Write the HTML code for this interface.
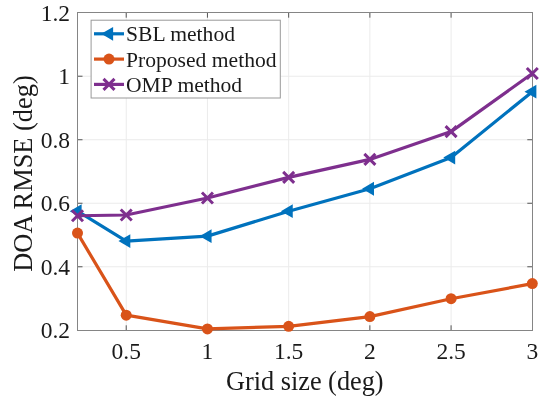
<!DOCTYPE html>
<html><head><meta charset="utf-8"><style>
html,body{margin:0;padding:0;background:#fff;width:550px;height:402px;overflow:hidden}
svg{display:block;will-change:transform}
text{font-family:"Liberation Serif",serif;fill:#1a1a1a}
</style></head><body>
<svg width="550" height="402" viewBox="0 0 550 402">
<g stroke="#ebebeb" stroke-width="1"><line x1="126.23" y1="12.7" x2="126.23" y2="330.3"/><line x1="207.44" y1="12.7" x2="207.44" y2="330.3"/><line x1="288.66" y1="12.7" x2="288.66" y2="330.3"/><line x1="369.87" y1="12.7" x2="369.87" y2="330.3"/><line x1="451.09" y1="12.7" x2="451.09" y2="330.3"/><line x1="77.5" y1="266.78" x2="532.3" y2="266.78"/><line x1="77.5" y1="203.26" x2="532.3" y2="203.26"/><line x1="77.5" y1="139.74" x2="532.3" y2="139.74"/><line x1="77.5" y1="76.22" x2="532.3" y2="76.22"/></g>
<g stroke="#555" stroke-width="1"><line x1="126.23" y1="330.3" x2="126.23" y2="325.3"/><line x1="126.23" y1="12.7" x2="126.23" y2="17.7"/><line x1="207.44" y1="330.3" x2="207.44" y2="325.3"/><line x1="207.44" y1="12.7" x2="207.44" y2="17.7"/><line x1="288.66" y1="330.3" x2="288.66" y2="325.3"/><line x1="288.66" y1="12.7" x2="288.66" y2="17.7"/><line x1="369.87" y1="330.3" x2="369.87" y2="325.3"/><line x1="369.87" y1="12.7" x2="369.87" y2="17.7"/><line x1="451.09" y1="330.3" x2="451.09" y2="325.3"/><line x1="451.09" y1="12.7" x2="451.09" y2="17.7"/><line x1="77.5" y1="266.78" x2="82.5" y2="266.78"/><line x1="532.3" y1="266.78" x2="527.3" y2="266.78"/><line x1="77.5" y1="203.26" x2="82.5" y2="203.26"/><line x1="532.3" y1="203.26" x2="527.3" y2="203.26"/><line x1="77.5" y1="139.74" x2="82.5" y2="139.74"/><line x1="532.3" y1="139.74" x2="527.3" y2="139.74"/><line x1="77.5" y1="76.22" x2="82.5" y2="76.22"/><line x1="532.3" y1="76.22" x2="527.3" y2="76.22"/></g>
<rect x="77.5" y="12.5" width="455" height="318" fill="none" stroke="#858585" stroke-width="1"/>
<polyline points="77.50,211.20 126.23,241.05 207.44,236.13 288.66,211.20 369.87,188.75 451.09,157.59 532.30,91.66" fill="none" stroke="#0072BD" stroke-width="3.2" stroke-linejoin="round"/>
<polygon points="69.70,211.20 81.60,204.30 81.60,218.10" fill="#0072BD"/>
<polygon points="118.43,241.05 130.33,234.15 130.33,247.95" fill="#0072BD"/>
<polygon points="199.64,236.13 211.54,229.23 211.54,243.03" fill="#0072BD"/>
<polygon points="280.86,211.20 292.76,204.30 292.76,218.10" fill="#0072BD"/>
<polygon points="362.07,188.75 373.97,181.85 373.97,195.65" fill="#0072BD"/>
<polygon points="443.29,157.59 455.19,150.69 455.19,164.49" fill="#0072BD"/>
<polygon points="524.50,91.66 536.40,84.76 536.40,98.56" fill="#0072BD"/>
<polyline points="77.50,233.11 126.23,315.18 207.44,328.90 288.66,326.30 369.87,316.58 451.09,298.73 532.30,283.61" fill="none" stroke="#D95319" stroke-width="3.2" stroke-linejoin="round"/>
<circle cx="77.50" cy="233.11" r="5.5" fill="#D95319"/>
<circle cx="126.23" cy="315.18" r="5.5" fill="#D95319"/>
<circle cx="207.44" cy="328.90" r="5.5" fill="#D95319"/>
<circle cx="288.66" cy="326.30" r="5.5" fill="#D95319"/>
<circle cx="369.87" cy="316.58" r="5.5" fill="#D95319"/>
<circle cx="451.09" cy="298.73" r="5.5" fill="#D95319"/>
<circle cx="532.30" cy="283.61" r="5.5" fill="#D95319"/>
<polyline points="77.50,215.77 126.23,215.01 207.44,197.96 288.66,177.41 369.87,159.43 451.09,131.61 532.30,73.52" fill="none" stroke="#7E2F8E" stroke-width="3.2" stroke-linejoin="round"/>
<path d="M72.00,210.27L83.00,221.27M72.00,221.27L83.00,210.27" stroke="#7E2F8E" stroke-width="3" fill="none"/>
<path d="M120.73,209.51L131.73,220.51M120.73,220.51L131.73,209.51" stroke="#7E2F8E" stroke-width="3" fill="none"/>
<path d="M201.94,192.46L212.94,203.46M201.94,203.46L212.94,192.46" stroke="#7E2F8E" stroke-width="3" fill="none"/>
<path d="M283.16,171.91L294.16,182.91M283.16,182.91L294.16,171.91" stroke="#7E2F8E" stroke-width="3" fill="none"/>
<path d="M364.37,153.93L375.37,164.93M364.37,164.93L375.37,153.93" stroke="#7E2F8E" stroke-width="3" fill="none"/>
<path d="M445.59,126.11L456.59,137.11M445.59,137.11L456.59,126.11" stroke="#7E2F8E" stroke-width="3" fill="none"/>
<path d="M526.80,68.02L537.80,79.02M526.80,79.02L537.80,68.02" stroke="#7E2F8E" stroke-width="3" fill="none"/>
<rect x="91.1" y="20.2" width="189.2" height="77.8" fill="#fff" stroke="#999999" stroke-width="1"/>
<line x1="94" y1="33.80" x2="124" y2="33.80" stroke="#0072BD" stroke-width="3.2"/>
<polygon points="101.20,33.80 113.10,26.90 113.10,40.70" fill="#0072BD"/>
<text x="126" y="41.30" font-size="21.6">SBL method</text>
<line x1="94" y1="59.10" x2="124" y2="59.10" stroke="#D95319" stroke-width="3.2"/>
<circle cx="109.00" cy="59.10" r="5.5" fill="#D95319"/>
<text x="126" y="66.60" font-size="21.6">Proposed method</text>
<line x1="94" y1="84.40" x2="124" y2="84.40" stroke="#7E2F8E" stroke-width="3.2"/>
<path d="M103.50,78.90L114.50,89.90M103.50,89.90L114.50,78.90" stroke="#7E2F8E" stroke-width="3" fill="none"/>
<text x="126" y="91.90" font-size="21.6">OMP method</text>
<text x="126.23" y="358.8" font-size="23.5" text-anchor="middle">0.5</text>
<text x="207.44" y="358.8" font-size="23.5" text-anchor="middle">1</text>
<text x="288.66" y="358.8" font-size="23.5" text-anchor="middle">1.5</text>
<text x="369.87" y="358.8" font-size="23.5" text-anchor="middle">2</text>
<text x="451.09" y="358.8" font-size="23.5" text-anchor="middle">2.5</text>
<text x="532.30" y="358.8" font-size="23.5" text-anchor="middle">3</text>
<text x="70" y="338.30" font-size="23.5" text-anchor="end">0.2</text>
<text x="70" y="274.78" font-size="23.5" text-anchor="end">0.4</text>
<text x="70" y="211.26" font-size="23.5" text-anchor="end">0.6</text>
<text x="70" y="147.74" font-size="23.5" text-anchor="end">0.8</text>
<text x="70" y="84.22" font-size="23.5" text-anchor="end">1</text>
<text x="70" y="20.70" font-size="23.5" text-anchor="end">1.2</text>
<text x="304.75" y="390" font-size="26.3" text-anchor="middle">Grid size (deg)</text>
<text transform="translate(32,173.5) rotate(-90)" font-size="26.4" text-anchor="middle">DOA RMSE (deg)</text>
</svg></body></html>
